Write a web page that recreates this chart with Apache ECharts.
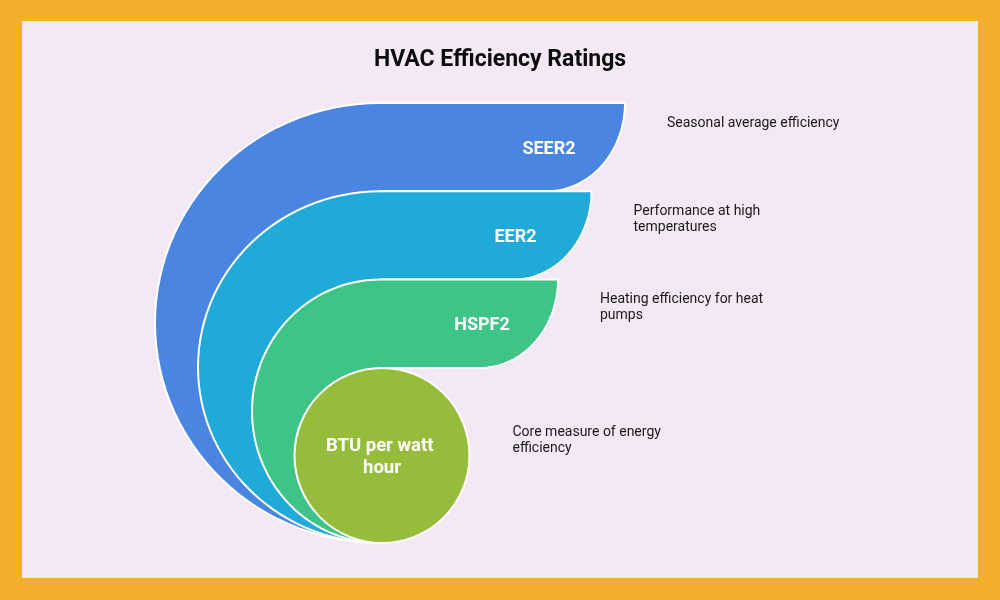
<!DOCTYPE html>
<html>
<head>
<meta charset="utf-8">
<title>HVAC Efficiency Ratings</title>
<script src="https://cdn.jsdelivr.net/npm/echarts@6/dist/echarts.min.js"></script>
<style>
	html, body { margin: 0; padding: 0; background: #F2AF2B; }
	#chart { width: 1000px; height: 600px; }
</style>
</head>
<body>
<div id="chart"></div>
<script>
// outer ring first, core last
var levels = ['SEER2', 'EER2', 'HSPF2', 'BTU per watt hour'];
var notes = [
	'Seasonal average efficiency',
	'Performance at high temperatures',
	'Heating efficiency for heat pumps',
	'Core measure of energy efficiency'
];
var colors = ['#4A86E1', '#1FAAD7', '#3EC486', '#95BD3B'];

// layout, in a 1000 x 600 space
var L = {
	cx: 380, bottom: 543, top: 103, band: 88.3,
	left: [155, 198, 252],
	right: 625, step: 33.5, tabW: 78,
	core: { cx: 382, cy: 455.5, r: 87.5 }
};
var FONT = 'Roboto, "Open Sans", sans-serif';

function renderLevel(params, api) {
	var i = api.value(0);
	var c = function(x, y) { return api.coord([x, y]); };
	var children = [];
	var k, a;
	if (i < levels.length - 1) {
		var top = L.top + L.band * i;
		var right = L.right - L.step * i;
		var cyE = (L.bottom + top) / 2, ry = (L.bottom - top) / 2, rx = L.cx - L.left[i];
		var pts = [];
		// left half: bottom -> left -> top
		for (k = 0; k <= 60; k++) {
			a = Math.PI / 2 + Math.PI * k / 60;
			pts.push(c(L.cx + rx * Math.cos(a), cyE + ry * Math.sin(a)));
		}
		// rounded tab on the right
		for (k = 0; k <= 30; k++) {
			a = Math.PI / 2 * k / 30;
			pts.push(c(right - L.tabW + L.tabW * Math.cos(a), top + L.band * Math.sin(a)));
		}
		pts.push(c(L.cx, top + L.band));
		children.push({
			type: 'polygon',
			shape: { points: pts },
			style: { fill: colors[i], stroke: '#fff', lineWidth: 2 }
		});
		var lp = c(right - 76, top + 46);
		children.push({
			type: 'text',
			style: {
				text: levels[i], x: lp[0], y: lp[1], fill: '#fff',
				fontSize: 18, fontWeight: 'bold', fontFamily: FONT,
				align: 'center', verticalAlign: 'middle'
			}
		});
		var np = c(right + 42, top + 12);
		children.push({
			type: 'text',
			style: {
				text: notes[i], x: np[0], y: np[1], fill: '#1a1a1a',
				fontSize: 14, fontFamily: FONT, lineHeight: 16,
				width: 190, overflow: 'break',
				align: 'left', verticalAlign: 'top'
			}
		});
	} else {
		var cc = c(L.core.cx, L.core.cy);
		var r = api.size([L.core.r, 0])[0];
		children.push({
			type: 'circle',
			shape: { cx: cc[0], cy: cc[1], r: r },
			style: { fill: colors[i], stroke: '#fff', lineWidth: 2 }
		});
		children.push({
			type: 'text',
			style: {
				text: levels[i], x: cc[0], y: cc[1] + 2, fill: '#fff',
				fontSize: 18.5, fontWeight: 'bold', fontFamily: FONT, lineHeight: 22,
				width: 140, overflow: 'break',
				align: 'center', verticalAlign: 'middle'
			}
		});
		var cp = c(L.core.cx + L.core.r + 43, L.core.cy - 31);
		children.push({
			type: 'text',
			style: {
				text: notes[i], x: cp[0], y: cp[1], fill: '#1a1a1a',
				fontSize: 14, fontFamily: FONT, lineHeight: 16,
				width: 190, overflow: 'break',
				align: 'left', verticalAlign: 'top'
			}
		});
	}
	return { type: 'group', children: children };
}

var chart = echarts.init(document.getElementById('chart'));
chart.setOption({
	backgroundColor: '#F2AF2B',
	animation: false,
	title: {
		text: 'HVAC Efficiency Ratings',
		left: 'center',
		top: 44,
		textStyle: { fontSize: 23, fontWeight: 'bold', color: '#0d0d0d', fontFamily: FONT }
	},
	graphic: [{
		type: 'rect',
		left: 22, top: 21,
		z: 0, silent: true,
		shape: { width: 956, height: 557 },
		style: { fill: '#F4E8F4' }
	}],
	grid: { left: 0, right: 0, top: 0, bottom: 0 },
	xAxis: { type: 'value', min: 0, max: 1000, show: false },
	yAxis: { type: 'value', min: 0, max: 600, inverse: true, show: false },
	series: [{
		type: 'custom',
		coordinateSystem: 'cartesian2d',
		clip: false,
		z: 5,
		renderItem: renderLevel,
		data: levels.map(function(name, i) {
			return { name: name, value: [i, i] };
		})
	}]
});
</script>
</body>
</html>
